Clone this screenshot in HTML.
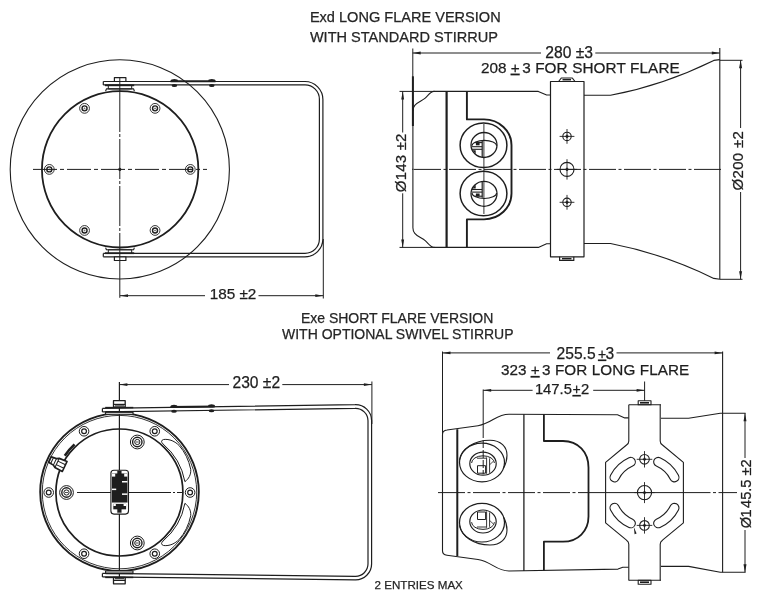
<!DOCTYPE html>
<html><head><meta charset="utf-8"><title>Sounder dimensions</title>
<style>
html,body{margin:0;padding:0;background:#fff;}
body{width:768px;height:601px;overflow:hidden;}
svg{display:block;font-family:"Liberation Sans",sans-serif;will-change:transform;}
svg *{vector-effect:none}
</style></head><body>
<svg width="768" height="601" viewBox="0 0 768 601" fill="none" stroke="#1e1e1e" stroke-linecap="butt" stroke-linejoin="round">
<rect x="0" y="0" width="768" height="601" fill="#fff" stroke="none"/>
<g fill="#262626" stroke="#262626" stroke-width="0.25">
<text x="309.9" y="21.6" font-size="14.55" text-anchor="start" >Exd LONG FLARE VERSION</text>
<text x="309.9" y="41.8" font-size="14.55" text-anchor="start" >WITH STANDARD STIRRUP</text>
<text x="397.1" y="323.3" font-size="14.0" text-anchor="middle" >Exe SHORT FLARE VERSION</text>
<text x="397.8" y="339.0" font-size="14.0" text-anchor="middle" >WITH OPTIONAL SWIVEL STIRRUP</text>
<text x="374.6" y="589.1" font-size="11.6" text-anchor="start" >2 ENTRIES MAX</text>
</g>
<g id="v1">
<circle cx="119.80" cy="169.40" r="109.6" stroke-width="1.1" />
<ellipse cx="120.15" cy="169.35" rx="78.2" ry="78.15" stroke-width="1.8"/>
<circle cx="190.30" cy="169.40" r="4.9" stroke-width="0.9" />
<circle cx="190.30" cy="169.40" r="2.5" stroke-width="1.4" />
<circle cx="190.30" cy="169.40" r="0.5" stroke-width="0.6" />
<circle cx="155.05" cy="230.45" r="4.9" stroke-width="0.9" />
<circle cx="155.05" cy="230.45" r="2.5" stroke-width="1.4" />
<circle cx="155.05" cy="230.45" r="0.5" stroke-width="0.6" />
<circle cx="84.55" cy="230.45" r="4.9" stroke-width="0.9" />
<circle cx="84.55" cy="230.45" r="2.5" stroke-width="1.4" />
<circle cx="84.55" cy="230.45" r="0.5" stroke-width="0.6" />
<circle cx="49.30" cy="169.40" r="4.9" stroke-width="0.9" />
<circle cx="49.30" cy="169.40" r="2.5" stroke-width="1.4" />
<circle cx="49.30" cy="169.40" r="0.5" stroke-width="0.6" />
<circle cx="84.55" cy="108.35" r="4.9" stroke-width="0.9" />
<circle cx="84.55" cy="108.35" r="2.5" stroke-width="1.4" />
<circle cx="84.55" cy="108.35" r="0.5" stroke-width="0.6" />
<circle cx="155.05" cy="108.35" r="4.9" stroke-width="0.9" />
<circle cx="155.05" cy="108.35" r="2.5" stroke-width="1.4" />
<circle cx="155.05" cy="108.35" r="0.5" stroke-width="0.6" />
<line x1="33" y1="169.4" x2="207" y2="169.4" stroke-width="1" stroke-dasharray="24 3 4 3"/>
<line x1="119.8" y1="92" x2="119.8" y2="247" stroke-width="1" stroke-dasharray="40 2 3 2"/>
<circle cx="119.80" cy="169.40" r="1.2" stroke-width="1" fill="#1e1e1e"/>
<path d="M103.3,81.5 H305 A18,18 0 0 1 322.9,99.5 V239 A18,18 0 0 1 305,256.8 H103.3" stroke-width="1.2" />
<path d="M103.3,84.9 H305 A14.4,14.4 0 0 1 319.4,99.3 V239 A14.4,14.4 0 0 1 305,253.4 H103.3" stroke-width="1.2" />
<line x1="103.3" y1="81.5" x2="103.3" y2="84.9" stroke-width="1.2" />
<line x1="103.3" y1="253.4" x2="103.3" y2="256.8" stroke-width="1.2" />
<rect x="114.4" y="77.6" width="11.50" height="3.90" stroke-width="1.2" fill="#fff"/>
<rect x="108.3" y="85.3" width="23.40" height="3.60" stroke-width="1" fill="#fff"/>
<line x1="105" y1="85.3" x2="134.2" y2="85.3" stroke-width="1.8" />
<path d="M105.6,91.2 L106.4,88.9 H133.6 L134.4,91.2" stroke-width="1.1" />
<rect x="114.4" y="256.8" width="11.50" height="3.70" stroke-width="1.2" fill="#fff"/>
<rect x="108.3" y="249.8" width="23.40" height="3.40" stroke-width="1" fill="#fff"/>
<line x1="105" y1="253.2" x2="134.2" y2="253.2" stroke-width="1.8" />
<path d="M105.6,247.6 L106.4,249.8 H133.6 L134.4,247.6" stroke-width="1.1" />
<line x1="119.8" y1="77.6" x2="119.8" y2="92" stroke-width="1" />
<line x1="119.8" y1="247" x2="119.8" y2="297.8" stroke-width="1" />
<line x1="170.5" y1="81.3" x2="215.5" y2="81.3" stroke-width="2" />
<ellipse cx="174.4" cy="80.6" rx="3.5" ry="1.5" fill="#1e1e1e" stroke="none"/>
<ellipse cx="174.4" cy="85.6" rx="2.8" ry="1.5" fill="#1e1e1e" stroke="none"/>
<ellipse cx="211.8" cy="80.6" rx="3.5" ry="1.5" fill="#1e1e1e" stroke="none"/>
<ellipse cx="211.8" cy="85.6" rx="2.8" ry="1.5" fill="#1e1e1e" stroke="none"/>
<line x1="120" y1="295.7" x2="205" y2="295.7" stroke-width="1" />
<line x1="258.5" y1="295.7" x2="323.3" y2="295.7" stroke-width="1" />
<polygon points="120.0,295.7 128.0,294.2 128.0,297.1" fill="#1e1e1e" stroke="none"/>
<polygon points="323.3,295.7 315.3,294.2 315.3,297.1" fill="#1e1e1e" stroke="none"/>
<line x1="323.3" y1="239" x2="323.3" y2="298.5" stroke-width="1" />
<g fill="#1e1e1e" stroke="#1e1e1e" stroke-width="0.25">
<text x="233" y="299.0" font-size="15.3" text-anchor="middle" >185 ±2</text>
</g>
</g>
<g id="v2">
<path d="M412.9,170 V111 C412.9,108.5 413.5,107 414.8,105.4 C418,101.5 422,101 425.2,98.1 C428.5,95 430.5,91.6 433.8,91.4 H538.3 L546.6,95 H550.5" stroke-width="1.1" />
<g transform="translate(0,338.8) scale(1,-1)">
<path d="M412.9,170 V111 C412.9,108.5 413.5,107 414.8,105.4 C418,101.5 422,101 425.2,98.1 C428.5,95 430.5,91.6 433.8,91.4 H538.3 L546.6,95 H550.5" stroke-width="1.1" />
</g>
<line x1="446.6" y1="91.4" x2="446.6" y2="247.4" stroke-width="2.2" />
<path d="M466.9,91.4 V119.4 H484 A27.5,25.9 0 0 1 511.5,145.3 V193.5 A27.5,25.9 0 0 1 484,219.4 H466.9 V247.4" stroke-width="1.9" />
<ellipse cx="483.5" cy="145.3" rx="23.4" ry="22.3" stroke-width="1.5"/>
<ellipse cx="484" cy="145" rx="13" ry="12.5" stroke-width="1.3"/>
<path d="M472,145.8 A12.2,5.4 0 0 1 496.6,145.8" stroke-width="1.1" />
<line x1="482.2" y1="141.1" x2="482.2" y2="157.4" stroke-width="1.2" />
<line x1="475.1" y1="142.6" x2="482.2" y2="142.6" stroke-width="1.1" />
<line x1="471.8" y1="146.7" x2="482.2" y2="146.7" stroke-width="1.1" />
<line x1="471.8" y1="149.3" x2="482.2" y2="149.3" stroke-width="1.1" />
<rect x="475.9" y="142.6" width="3.7" height="2.7" fill="#1e1e1e" stroke="none"/>
<polygon points="472.3,150.3 475.7,150.3 475.7,154" fill="#1e1e1e" stroke="none"/>
<g transform="translate(0,338.8) scale(1,-1)">
<ellipse cx="483.5" cy="145.3" rx="23.4" ry="22.3" stroke-width="1.5"/>
<ellipse cx="484" cy="145" rx="13" ry="12.5" stroke-width="1.3"/>
<path d="M472,145.8 A12.2,5.4 0 0 1 496.6,145.8" stroke-width="1.1" />
<line x1="482.2" y1="141.1" x2="482.2" y2="157.4" stroke-width="1.2" />
<line x1="475.1" y1="142.6" x2="482.2" y2="142.6" stroke-width="1.1" />
<line x1="471.8" y1="146.7" x2="482.2" y2="146.7" stroke-width="1.1" />
<line x1="471.8" y1="149.3" x2="482.2" y2="149.3" stroke-width="1.1" />
<rect x="475.9" y="142.6" width="3.7" height="2.7" fill="#1e1e1e" stroke="none"/>
<polygon points="472.3,150.3 475.7,150.3 475.7,154" fill="#1e1e1e" stroke="none"/>
</g>
<line x1="483.9" y1="124" x2="483.9" y2="214" stroke-width="0.9" />
<rect x="550.5" y="81.5" width="33.50" height="175.30" stroke-width="1.2" fill="#fff"/>
<path d="M558.6,81.5 L561.3,78 H572.3 L575,81.5" stroke-width="1.2" />
<line x1="562.5" y1="79.7" x2="571" y2="79.7" stroke-width="1.5" />
<path d="M559.6,256.8 V260.4 H573.8 V256.8" stroke-width="1.2" />
<line x1="562" y1="258.7" x2="571.5" y2="258.7" stroke-width="1.4" />
<circle cx="567.00" cy="136.40" r="4.2" stroke-width="1.1" />
<line x1="559.5999999999999" y1="136.4" x2="574.4000000000001" y2="136.4" stroke-width="0.9" />
<line x1="567" y1="129.00000000000003" x2="567" y2="143.79999999999998" stroke-width="0.9" />
<line x1="565.4" y1="136.4" x2="568.6" y2="136.4" stroke-width="1.5" />
<line x1="567" y1="134.8" x2="567" y2="138.0" stroke-width="1.5" />
<circle cx="567.00" cy="169.40" r="7" stroke-width="1.1" />
<line x1="556.8" y1="169.4" x2="577.2" y2="169.4" stroke-width="0.9" />
<line x1="567" y1="159.20000000000002" x2="567" y2="179.6" stroke-width="0.9" />
<line x1="565.4" y1="169.4" x2="568.6" y2="169.4" stroke-width="1.5" />
<line x1="567" y1="167.8" x2="567" y2="171.0" stroke-width="1.5" />
<circle cx="567.00" cy="202.30" r="4.2" stroke-width="1.1" />
<line x1="559.5999999999999" y1="202.3" x2="574.4000000000001" y2="202.3" stroke-width="0.9" />
<line x1="567" y1="194.90000000000003" x2="567" y2="209.7" stroke-width="0.9" />
<line x1="565.4" y1="202.3" x2="568.6" y2="202.3" stroke-width="1.5" />
<line x1="567" y1="200.70000000000002" x2="567" y2="203.9" stroke-width="1.5" />
<path d="M584,95.3 H610.5 Q663,85.3 713.8,60.4 L719.8,59.6" stroke-width="1.1" />
<g transform="translate(0,338.8) scale(1,-1)">
<path d="M584,95.3 H610.5 Q663,85.3 713.8,60.4 L719.8,59.6" stroke-width="1.1" />
</g>
<line x1="719.8" y1="48" x2="719.8" y2="279.3" stroke-width="1.1" />
<line x1="414" y1="169.4" x2="722" y2="169.4" stroke-width="1" stroke-dasharray="27 2.5 3 2.5"/>
<line x1="412.8" y1="48.5" x2="412.8" y2="111" stroke-width="1" />
<line x1="412.9" y1="76.3" x2="412.9" y2="126" stroke-width="2" />
<line x1="412.7" y1="53" x2="541" y2="53" stroke-width="1" />
<line x1="595.3" y1="53" x2="719.8" y2="53" stroke-width="1" />
<polygon points="412.7,53.0 420.7,51.5 420.7,54.5" fill="#1e1e1e" stroke="none"/>
<polygon points="719.8,53.0 711.8,51.5 711.8,54.5" fill="#1e1e1e" stroke="none"/>
<g fill="#1e1e1e" stroke="#1e1e1e" stroke-width="0.25">
<text x="569.2" y="57.7" font-size="15.65" text-anchor="middle" >280 ±3</text>
<text x="480.9" y="72.7" font-size="15.3" text-anchor="start" >208 <tspan text-decoration="underline">+</tspan><tspan dx="-1.8" letter-spacing="0.11"> 3 FOR SHORT FLARE</tspan></text>
</g>
<line x1="399.5" y1="91.4" x2="435" y2="91.4" stroke-width="1" />
<line x1="399.5" y1="247.4" x2="435" y2="247.4" stroke-width="1" />
<line x1="402.7" y1="91.4" x2="402.7" y2="132.5" stroke-width="1" />
<line x1="402.7" y1="193.3" x2="402.7" y2="247.4" stroke-width="1" />
<polygon points="402.7,91.4 401.2,99.4 404.1,99.4" fill="#1e1e1e" stroke="none"/>
<polygon points="402.7,247.4 401.2,239.4 404.1,239.4" fill="#1e1e1e" stroke="none"/>
<g fill="#1e1e1e" stroke="#1e1e1e" stroke-width="0.25">
<text transform="translate(405.7,192.2) rotate(-90)" font-size="15" letter-spacing="0.2">Ø143 ±2</text>
</g>
<line x1="719.8" y1="60.3" x2="742.5" y2="60.3" stroke-width="1" />
<line x1="719.8" y1="279.3" x2="742.5" y2="279.3" stroke-width="1" />
<line x1="740.6" y1="60.3" x2="740.6" y2="128" stroke-width="1" />
<line x1="740.6" y1="192" x2="740.6" y2="279.3" stroke-width="1" />
<polygon points="740.6,60.3 739.1,68.3 742.1,68.3" fill="#1e1e1e" stroke="none"/>
<polygon points="740.6,279.3 739.1,271.3 742.1,271.3" fill="#1e1e1e" stroke="none"/>
<g fill="#1e1e1e" stroke="#1e1e1e" stroke-width="0.25">
<text transform="translate(743.3,190.4) rotate(-90)" font-size="15" letter-spacing="0.3">Ø200 ±2</text>
</g>
</g>
<g id="v3">
<ellipse cx="119.5" cy="492.1" rx="79.3" ry="78.8" stroke-width="1.9"/>
<ellipse cx="119.5" cy="492.1" rx="77.2" ry="76.7" stroke-width="0.9"/>
<circle cx="119.40" cy="492.50" r="63.5" stroke-width="1.7" />
<circle cx="190.10" cy="492.50" r="4.8" stroke-width="1" fill="#fff"/>
<circle cx="190.10" cy="492.50" r="2.4" stroke-width="1.2" />
<circle cx="154.75" cy="553.73" r="4.8" stroke-width="1" fill="#fff"/>
<circle cx="154.75" cy="553.73" r="2.4" stroke-width="1.2" />
<circle cx="84.05" cy="553.73" r="4.8" stroke-width="1" fill="#fff"/>
<circle cx="84.05" cy="553.73" r="2.4" stroke-width="1.2" />
<circle cx="48.70" cy="492.50" r="4.8" stroke-width="1" fill="#fff"/>
<circle cx="48.70" cy="492.50" r="2.4" stroke-width="1.2" />
<circle cx="84.05" cy="431.27" r="4.8" stroke-width="1" fill="#fff"/>
<circle cx="84.05" cy="431.27" r="2.4" stroke-width="1.2" />
<circle cx="154.75" cy="431.27" r="4.8" stroke-width="1" fill="#fff"/>
<circle cx="154.75" cy="431.27" r="2.4" stroke-width="1.2" />
<circle cx="137.30" cy="442.00" r="6.9" stroke-width="1" />
<circle cx="137.30" cy="442.00" r="4.7" stroke-width="1.4" />
<circle cx="137.30" cy="442.00" r="2.6" stroke-width="1" />
<line x1="135.8" y1="442" x2="138.8" y2="442" stroke-width="0.8" />
<circle cx="66.50" cy="492.50" r="6.9" stroke-width="1" />
<circle cx="66.50" cy="492.50" r="4.7" stroke-width="1.4" />
<circle cx="66.50" cy="492.50" r="2.6" stroke-width="1" />
<line x1="65.0" y1="492.5" x2="68.0" y2="492.5" stroke-width="0.8" />
<circle cx="137.30" cy="543.00" r="6.9" stroke-width="1" />
<circle cx="137.30" cy="543.00" r="4.7" stroke-width="1.4" />
<circle cx="137.30" cy="543.00" r="2.6" stroke-width="1" />
<line x1="135.8" y1="543" x2="138.8" y2="543" stroke-width="0.8" />
<line x1="77" y1="492.5" x2="165" y2="492.5" stroke-width="1" />
<line x1="165" y1="492.5" x2="183" y2="492.5" stroke-width="1" stroke-dasharray="6 2 2 2"/>
<line x1="119.4" y1="382" x2="119.4" y2="581.6" stroke-width="1.2" />
<rect x="110.9" y="470.3" width="17.6" height="43.8" rx="3" stroke-width="1.1" fill="#fff"/>
<g fill="#1e1e1e" stroke="#1e1e1e" stroke-width="0.25">
<rect x="112" y="473.6" width="15.4" height="28.8"/><rect x="113.4" y="504" width="12.6" height="5.2"/><rect x="117.4" y="509" width="4" height="3.6"/><rect x="117.4" y="471" width="4" height="3"/>
</g><g fill="#fff" stroke="none">
<rect x="112" y="473.6" width="3.2" height="3"/><rect x="124.2" y="473.6" width="3.2" height="3"/>
<rect x="112" y="488.6" width="4.2" height="1.5"/><rect x="122" y="481" width="5.4" height="1.5"/><rect x="122" y="493.4" width="5.4" height="1.5"/>
<rect x="113.4" y="504" width="2.4" height="2"/><rect x="123.6" y="504" width="2.4" height="2"/>
</g>
<path d="M163.09,443.97 A65.3,65.3 0 0 1 184.91,481.66 C188.60,479.05 191.20,474.60 190.73,469.32 C188.82,460.13 184.70,451.70 179.29,445.71 C175.14,441.43 169.53,438.75 163.57,439.49 Q159.79,440.81 163.09,443.97 Z" stroke-width="1" />
<path d="M163.09,541.03 A65.3,65.3 0 0 0 184.91,503.34 C188.60,505.95 191.20,510.40 190.73,515.68 C188.82,524.87 184.70,533.30 179.29,539.29 C175.14,543.57 169.53,546.25 163.57,545.51 Q159.79,544.19 163.09,541.03 Z" stroke-width="1" />
<g transform="translate(56,462.4) rotate(205.3) scale(1.2)">
<path d="M-8,-4.6 L-1,-4.2 L1,-3 L5.6,-2.6 V2.6 L1,3 L-1,4.2 L-8,4.6 Z" stroke-width="1.4" fill="#fff"/>
<line x1="-1" y1="-4.2" x2="-1" y2="4.2" stroke-width="0.9" />
<line x1="1" y1="-3" x2="1" y2="3" stroke-width="0.9" />
<line x1="-8" y1="-1.6" x2="-1" y2="-1.6" stroke-width="0.8" />
<line x1="-8" y1="1.6" x2="-1" y2="1.6" stroke-width="0.8" />
<line x1="3.6" y1="-2.7" x2="3.6" y2="2.7" stroke-width="0.9" />
</g>
<path d="M64.8,455.7 A65.8,65.8 0 0 1 74.5,444.4" stroke-width="2.6" />
<path d="M102.4,408.4 L355,404.6 A16,16 0 0 1 371.6,420.6 V563.5 A16,16 0 0 1 355,579.8 L102.4,576.9" stroke-width="1.2" />
<path d="M102.4,411.9 L355,408.4 A12.5,12.5 0 0 1 368,421 V563.5 A12.5,12.5 0 0 1 355,576.3 L102.4,573.4" stroke-width="1.2" />
<line x1="102.4" y1="408.4" x2="102.4" y2="411.9" stroke-width="1.2" />
<line x1="102.4" y1="573.4" x2="102.4" y2="576.9" stroke-width="1.2" />
<rect x="113.5" y="400.7" width="11.70" height="6.50" stroke-width="1.3" fill="#fff"/>
<line x1="113.5" y1="404.4" x2="125.2" y2="404.4" stroke-width="1.2" />
<line x1="115" y1="405.9" x2="124" y2="405.9" stroke-width="1" />
<line x1="105.2" y1="407.6" x2="133.3" y2="407.6" stroke-width="1.5" />
<rect x="105.6" y="412" width="27.40" height="2.20" stroke-width="1.1" fill="#fff"/>
<line x1="105.6" y1="412" x2="133" y2="412" stroke-width="1.6" />
<rect x="113.5" y="577.4" width="11.70" height="6.40" stroke-width="1.3" fill="#fff"/>
<line x1="113.5" y1="580.4" x2="125.2" y2="580.4" stroke-width="1.2" />
<line x1="115" y1="578.7" x2="124" y2="578.7" stroke-width="1" />
<line x1="105.2" y1="577.4" x2="133.3" y2="577.4" stroke-width="1.5" />
<rect x="105.6" y="571" width="27.40" height="2.40" stroke-width="1.1" fill="#fff"/>
<line x1="105.6" y1="573.4" x2="133" y2="573.4" stroke-width="1.6" />
<line x1="170.5" y1="407" x2="214.7" y2="406.4" stroke-width="2" />
<ellipse cx="174" cy="406.2" rx="3.3" ry="1.5" fill="#1e1e1e" stroke="none"/><ellipse cx="174" cy="411.29999999999995" rx="2.8" ry="1.5" fill="#1e1e1e" stroke="none"/>
<ellipse cx="211.5" cy="405.7" rx="3.3" ry="1.5" fill="#1e1e1e" stroke="none"/><ellipse cx="211.5" cy="410.79999999999995" rx="2.8" ry="1.5" fill="#1e1e1e" stroke="none"/>
<line x1="119.4" y1="384.6" x2="229" y2="384.6" stroke-width="1" />
<line x1="282.3" y1="384.6" x2="371.9" y2="384.6" stroke-width="1" />
<polygon points="119.4,384.6 127.4,383.2 127.4,386.1" fill="#1e1e1e" stroke="none"/>
<polygon points="371.9,384.6 363.9,383.2 363.9,386.1" fill="#1e1e1e" stroke="none"/>
<line x1="371.9" y1="381.5" x2="371.9" y2="424" stroke-width="1" />
<g fill="#1e1e1e" stroke="#1e1e1e" stroke-width="0.25">
<text x="256.3" y="387.6" font-size="15.6" text-anchor="middle" >230 ±2</text>
</g>
</g>
<g id="v4">
<path d="M442.5,493 V434.5 C442.5,431.5 444,430.3 447,430 L478,425.7 C492,423.5 496,414.2 509,414.2" stroke-width="1.1" />
<g transform="translate(0,985.2) scale(1,-1)">
<path d="M442.5,493 V434.5 C442.5,431.5 444,430.3 447,430 L478,425.7 C492,423.5 496,414.2 509,414.2" stroke-width="1.1" />
</g>
<path d="M509,414.2 L617.5,414.8 L624.8,417.9 H628.7" stroke-width="1.1" />
<path d="M509,571 L618,569.1 L622.8,567.2 H628.7" stroke-width="1.1" />
<path d="M457.3,493 V429.2" stroke-width="2" />
<g transform="translate(0,985.2) scale(1,-1)">
<path d="M457.3,493 V429.2" stroke-width="2" />
</g>
<line x1="523.9" y1="414.2" x2="523.9" y2="571" stroke-width="1.3" />
<path d="M543.9,414.3 V441 H563 C578,441 588.5,452 588.5,467.5 V516.5 C588.5,531 578,541.7 563,541.7 H543.9 V570.4" stroke-width="1.8" />
<ellipse cx="482" cy="462.5" rx="22.5" ry="19.3" stroke-width="1.2"/>
<path d="M459.6,460 C461,449 474,440.2 490,440.2 C501,440.2 507,447 507,455.2 C507,460 505.6,464.5 503.4,468.5" stroke-width="1.1" />
<ellipse cx="483" cy="463.7" rx="13.2" ry="11.5" stroke-width="1.2"/>
<path d="M471.6,463 A11.4,7.2 0 0 1 494.4,463" stroke-width="1" />
<rect x="477.5" y="465.7" width="8.10" height="7.50" stroke-width="1" />
<line x1="477" y1="458.2" x2="486.5" y2="458.2" stroke-width="0.9" />
<line x1="486.6" y1="457.4" x2="486.6" y2="473.8" stroke-width="0.9" />
<line x1="489.6" y1="458.4" x2="489.6" y2="472.8" stroke-width="0.9" />
<line x1="489.6" y1="464.8" x2="493.2" y2="461.4" stroke-width="0.8" />
<g transform="translate(0,985.2) scale(1,-1)">
<ellipse cx="482" cy="462.5" rx="22.5" ry="19.3" stroke-width="1.2"/>
<path d="M459.6,460 C461,449 474,440.2 490,440.2 C501,440.2 507,447 507,455.2 C507,460 505.6,464.5 503.4,468.5" stroke-width="1.1" />
<ellipse cx="483" cy="463.7" rx="13.2" ry="11.5" stroke-width="1.2"/>
<path d="M471.6,463 A11.4,7.2 0 0 1 494.4,463" stroke-width="1" />
<rect x="477.5" y="465.7" width="8.10" height="7.50" stroke-width="1" />
<line x1="477" y1="458.2" x2="486.5" y2="458.2" stroke-width="0.9" />
<line x1="486.6" y1="457.4" x2="486.6" y2="473.8" stroke-width="0.9" />
<line x1="489.6" y1="458.4" x2="489.6" y2="472.8" stroke-width="0.9" />
<line x1="489.6" y1="464.8" x2="493.2" y2="461.4" stroke-width="0.8" />
</g>
<line x1="483.2" y1="389.5" x2="483.2" y2="430" stroke-width="1" />
<line x1="483.2" y1="430" x2="483.2" y2="474" stroke-width="1" stroke-dasharray="8 2"/>
<path d="M628.8,404.8 V441 Q628.8,443.5 626.5,445 L605.6,462.4 V493" stroke-width="1.1" />
<g transform="translate(0,985.2) scale(1,-1)">
<path d="M628.8,404.8 V441 Q628.8,443.5 626.5,445 L605.6,462.4 V493" stroke-width="1.1" />
</g>
<g transform="translate(1289.0,0) scale(-1,1)">
<path d="M628.8,404.8 V441 Q628.8,443.5 626.5,445 L605.6,462.4 V493" stroke-width="1.1" />
<g transform="translate(0,985.2) scale(1,-1)">
<path d="M628.8,404.8 V441 Q628.8,443.5 626.5,445 L605.6,462.4 V493" stroke-width="1.1" />
</g>
</g>
<line x1="628.8" y1="404.8" x2="661" y2="404.8" stroke-width="1.1" />
<line x1="628.8" y1="580.2" x2="661" y2="580.2" stroke-width="1.1" />
<rect x="638.2" y="400.8" width="12.80" height="4.00" stroke-width="1.1" />
<line x1="640" y1="402.8" x2="649" y2="402.8" stroke-width="1.6" />
<rect x="638.2" y="580.2" width="12.80" height="4.00" stroke-width="1.1" />
<line x1="640" y1="582.2" x2="649" y2="582.2" stroke-width="1.6" />
<circle cx="644.50" cy="459.30" r="4.8" stroke-width="1.1" />
<line x1="636.7" y1="459.3" x2="652.3" y2="459.3" stroke-width="0.9" />
<line x1="644.5" y1="451.1" x2="644.5" y2="467.5" stroke-width="0.9" />
<line x1="642.9" y1="459.3" x2="646.1" y2="459.3" stroke-width="1.5" />
<line x1="644.5" y1="457.7" x2="644.5" y2="460.90000000000003" stroke-width="1.5" />
<circle cx="644.50" cy="492.60" r="7.1" stroke-width="1.1" />
<line x1="634.4" y1="492.6" x2="654.6" y2="492.6" stroke-width="0.9" />
<line x1="644.5" y1="482.1" x2="644.5" y2="503.1" stroke-width="0.9" />
<line x1="642.9" y1="492.6" x2="646.1" y2="492.6" stroke-width="1.5" />
<line x1="644.5" y1="491.0" x2="644.5" y2="494.20000000000005" stroke-width="1.5" />
<circle cx="644.50" cy="525.40" r="4.8" stroke-width="1.1" />
<line x1="636.7" y1="525.4" x2="652.3" y2="525.4" stroke-width="0.9" />
<line x1="644.5" y1="517.2" x2="644.5" y2="533.5999999999999" stroke-width="0.9" />
<line x1="642.9" y1="525.4" x2="646.1" y2="525.4" stroke-width="1.5" />
<line x1="644.5" y1="523.8" x2="644.5" y2="527.0" stroke-width="1.5" />
<path d="M678.45,475.30 A38.1,38.1 0 0 0 660.00,457.79 A4.5,4.5 0 0 0 656.34,466.02 A29.1,29.1 0 0 1 670.43,479.39 A4.5,4.5 0 0 0 678.45,475.30 Z" stroke-width="1.1" />
<path d="M629.00,457.79 A38.1,38.1 0 0 0 610.55,475.30 A4.5,4.5 0 0 0 618.57,479.39 A29.1,29.1 0 0 1 632.66,466.02 A4.5,4.5 0 0 0 629.00,457.79 Z" stroke-width="1.1" />
<path d="M610.55,509.90 A38.1,38.1 0 0 0 629.00,527.41 A4.5,4.5 0 0 0 632.66,519.18 A29.1,29.1 0 0 1 618.57,505.81 A4.5,4.5 0 0 0 610.55,509.90 Z" stroke-width="1.1" />
<path d="M660.00,527.41 A38.1,38.1 0 0 0 678.45,509.90 A4.5,4.5 0 0 0 670.43,505.81 A29.1,29.1 0 0 1 656.34,519.18 A4.5,4.5 0 0 0 660.00,527.41 Z" stroke-width="1.1" />
<polygon points="633.8,527 636.6,533.5 634.6,534.2" fill="#1e1e1e" stroke="none"/>
<path d="M661,418.2 H688.6 L720.3,413.2 H745.6" stroke-width="1.1" />
<path d="M661,566.4 H688.6 L720.3,572.3 H745.6" stroke-width="1.1" />
<line x1="722.6" y1="351.6" x2="722.6" y2="572.3" stroke-width="1.1" />
<line x1="438" y1="492.6" x2="606" y2="492.6" stroke-width="1" stroke-dasharray="27 2.5 3 2.5"/>
<line x1="606" y1="492.6" x2="683.5" y2="492.6" stroke-width="1" />
<line x1="683.5" y1="492.6" x2="737" y2="492.6" stroke-width="1" stroke-dasharray="27 2.5 3 2.5"/>
<line x1="442.5" y1="351.5" x2="442.5" y2="435" stroke-width="1" />
<line x1="442.5" y1="352.9" x2="550" y2="352.9" stroke-width="1" />
<line x1="616.5" y1="352.9" x2="722.6" y2="352.9" stroke-width="1" />
<polygon points="442.5,352.9 450.5,351.4 450.5,354.3" fill="#1e1e1e" stroke="none"/>
<polygon points="722.6,352.9 714.6,351.4 714.6,354.3" fill="#1e1e1e" stroke="none"/>
<line x1="483.2" y1="390.3" x2="532.6" y2="390.3" stroke-width="1" />
<line x1="593.2" y1="390.3" x2="644.6" y2="390.3" stroke-width="1" />
<polygon points="483.2,390.3 491.2,388.9 491.2,391.8" fill="#1e1e1e" stroke="none"/>
<polygon points="644.6,390.3 636.6,388.9 636.6,391.8" fill="#1e1e1e" stroke="none"/>
<line x1="644.6" y1="381.5" x2="644.6" y2="400.8" stroke-width="1" />
<g fill="#1e1e1e" stroke="#1e1e1e" stroke-width="0.25">
<text x="556.6" y="358.6" font-size="15.6" text-anchor="start" >255.5<tspan dx="2.4" font-size="14" text-decoration="underline">+</tspan><tspan dx="-0.7">3</tspan></text>
<text x="501.0" y="375" font-size="15.25" text-anchor="start" >323 <tspan text-decoration="underline">+</tspan><tspan dx="-1.9" letter-spacing="0.1"> 3 FOR LONG FLARE</tspan></text>
<text x="534.9" y="394.0" font-size="14.8" text-anchor="start" >147.5<tspan dx="0.6" font-size="14" text-decoration="underline">+</tspan><tspan dx="0.4">2</tspan></text>
<text transform="translate(751,528.2) rotate(-90)" font-size="14.6" dx="0 -0.6 1.4">Ø145.5 ±2</text>
</g>
<line x1="745" y1="413.2" x2="745" y2="458" stroke-width="1" />
<line x1="745" y1="530" x2="745" y2="572.2" stroke-width="1" />
<polygon points="745.0,413.2 743.5,421.2 746.5,421.2" fill="#1e1e1e" stroke="none"/>
<polygon points="745.0,572.2 743.5,564.2 746.5,564.2" fill="#1e1e1e" stroke="none"/>
</g>
</svg>
</body></html>
